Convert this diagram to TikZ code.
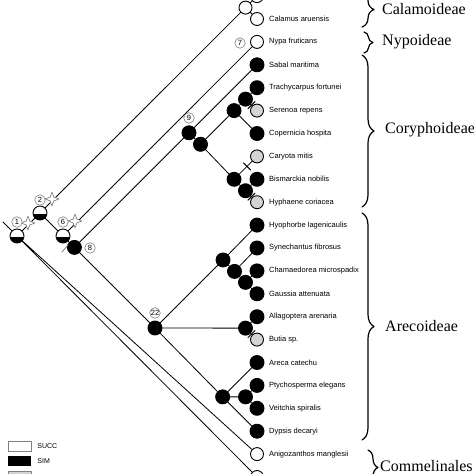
\documentclass[tikz,border=0pt]{standalone}
\usepackage{fontspec}
\setmainfont{Liberation Serif}
\setsansfont{Liberation Sans}
\usetikzlibrary{positioning,shapes.geometric,decorations.pathreplacing}
\definecolor{mixgray}{RGB}{212,212,212}
\tikzset{
  leaf/.style={circle,draw,line width=0.9pt,minimum size=13pt,inner sep=0pt},
  succ/.style={leaf,fill=white},
  sim/.style={leaf,fill=black,minimum size=14pt},
  mix/.style={leaf,fill=mixgray},
  half/.style={leaf,fill=white,minimum size=14pt,
    path picture={\fill[black] ([yshift=-1pt]path picture bounding box.west) rectangle (path picture bounding box.south east);}},
  taxon/.style={inner sep=0pt,font=\sffamily\fontsize{7.5}{8}\selectfont},
  numlab/.style={circle,draw=gray,line width=0.6pt,minimum size=10.5pt,inner sep=0pt,fill=white,
    font=\sffamily\fontsize{7.5}{8}\selectfont},
  spark/.style={star,star points=4,star point ratio=2.6,minimum size=14pt,inner sep=0pt,
    draw=gray,fill=white,line width=0.7pt},
  branch/.style={line width=0.8pt},
  losstick/.style={sloped,draw,line width=1pt,minimum width=0pt,minimum height=10pt,inner sep=0pt},
  clade/.style={anchor=west,inner sep=0pt,font=\fontsize{16}{18}\selectfont},
  curly/.style={decorate,decoration={brace,amplitude=#1},line width=1.2pt},
  legbox/.style={rectangle,minimum width=23pt,minimum height=10pt,inner sep=0pt},
  legtext/.style={inner sep=0pt,font=\sffamily\fontsize{7}{8}\selectfont}
}
\begin{document}
\begin{tikzpicture}[x=1pt,y=-1pt,line cap=round,line join=round]
  \useasboundingbox (0,0) rectangle (474,474);
  \clip (0,0) rectangle (474,474);
  % terminal taxa
  \node[succ] (top) at (257,-3.9) {};
  \node[succ] (calamus) at (257,19) {};
  \node[succ] (nypa) at (257,41.9) {};
  \node[sim] (sabal) at (257,64.8) {};
  \node[sim] (trachy) at (257,87.7) {};
  \node[mix] (serenoa) at (257,110.6) {};
  \node[sim] (copernicia) at (257,133.5) {};
  \node[mix] (caryota) at (257,156.4) {};
  \node[sim] (bismarckia) at (257,179.3) {};
  \node[mix] (hyphaene) at (257,202.2) {};
  \node[sim] (hyophorbe) at (257,225.1) {};
  \node[sim] (synech) at (257,248) {};
  \node[sim] (chamae) at (257,270.9) {};
  \node[sim] (gaussia) at (257,293.8) {};
  \node[sim] (allag) at (257,316.7) {};
  \node[mix] (butia) at (257,339.6) {};
  \node[sim] (areca) at (257,362.5) {};
  \node[sim] (ptycho) at (257,385.4) {};
  \node[sim] (veitchia) at (257,408.3) {};
  \node[sim] (dypsis) at (257,431.2) {};
  \node[succ] (anigo) at (257,454.1) {};
  \node[succ] (last) at (257,477) {};
  \node[taxon,right=5pt of calamus] (t-calamus) {Calamus aruensis};
  \node[taxon,right=5pt of nypa] (t-nypa) {Nypa fruticans};
  \node[taxon,right=4.5pt of sabal] (t-sabal) {Sabal maritima};
  \node[taxon,right=4.5pt of trachy] (t-trachy) {Trachycarpus fortunei};
  \node[taxon,right=5pt of serenoa] (t-serenoa) {Serenoa repens};
  \node[taxon,right=4.5pt of copernicia] (t-copernicia) {Copernicia hospita};
  \node[taxon,right=5pt of caryota] (t-caryota) {Caryota mitis};
  \node[taxon,right=4.5pt of bismarckia] (t-bismarckia) {Bismarckia nobilis};
  \node[taxon,right=5pt of hyphaene] (t-hyphaene) {Hyphaene coriacea};
  \node[taxon,right=4.5pt of hyophorbe] (t-hyophorbe) {Hyophorbe lagenicaulis};
  \node[taxon,right=4.5pt of synech] (t-synech) {Synechantus fibrosus};
  \node[taxon,right=4.5pt of chamae] (t-chamae) {Chamaedorea microspadix};
  \node[taxon,right=4.5pt of gaussia] (t-gaussia) {Gaussia attenuata};
  \node[taxon,right=4.5pt of allag] (t-allag) {Allagoptera arenaria};
  \node[taxon,right=5pt of butia] (t-butia) {Butia sp.};
  \node[taxon,right=4.5pt of areca] (t-areca) {Areca catechu};
  \node[taxon,right=4.5pt of ptycho] (t-ptycho) {Ptychosperma elegans};
  \node[taxon,right=4.5pt of veitchia] (t-veitchia) {Veitchia spiralis};
  \node[taxon,right=4.5pt of dypsis] (t-dypsis) {Dypsis decaryi};
  \node[taxon,right=5pt of anigo] (t-anigo) {Anigozanthos manglesii};
  % internal nodes
  \node[half] (n1) at (17,236) {};
  \node[half] (n2) at (40,213) {};
  \node[half] (n6) at (63,236) {};
  \node[sim] (n8) at (74.4,247.4) {};
  \node[succ] (cal) at (245.5,7.6) {};
  \node[sim] (n9) at (189,132.8) {};
  \node[sim] (g) at (200.5,144.3) {};
  \node[sim] (h) at (234.05,110.6) {};
  \node[sim] (i) at (245.5,99.15) {};
  \node[sim] (j) at (234.05,179.3) {};
  \node[sim] (k) at (245.5,190.75) {};
  \node[sim] (n22) at (155,328) {};
  \node[sim] (a) at (223.05,259.95) {};
  \node[sim] (b) at (234.5,271.4) {};
  \node[sim] (c) at (245.5,282.35) {};
  \node[sim] (d) at (245.5,328.15) {};
  \node[sim] (e) at (222.65,396.85) {};
  \node[sim] (f) at (245.5,396.85) {};
  \coordinate (root) at (3,222);
  % branches
  \draw[branch] (root) -- (n1) (n1) -- (n2) (n1) -- (anigo) (n1) -- (last)
    (n2) -- (cal) (n2) -- (n6) (cal) -- (top) (cal) -- (calamus)
    (n6) -- (nypa) (n6) -- (n8) (n8) -- (n9) (n8) -- (n22)
    (n9) -- (sabal) (n9) -- (g) (g) -- (h) (g) -- (j)
    (h) -- (i) (h) -- (copernicia) (i) -- (trachy) (j) -- (k)
    (k) -- (bismarckia)
    (n22) -- (a) (n22) -- (d) (n22) -- (e)
    (a) -- (hyophorbe) (a) -- (b) (b) -- (synech) (b) -- (c)
    (c) -- (chamae) (c) -- (gaussia) (d) -- (allag)
    (e) -- (areca) (e) -- (f) (e) -- (dypsis) (f) -- (ptycho) (f) -- (veitchia);
  \draw[branch] (i) -- node[losstick,pos=0.55] (tk-serenoa) {} (serenoa);
  \draw[branch] (j) -- node[losstick,pos=0.6] (tk-caryota) {} (caryota);
  \draw[branch] (k) -- node[losstick,pos=0.5] (tk-hyphaene) {} (hyphaene);
  \draw[branch] (d) -- node[losstick,pos=0.5] (tk-butia) {} (butia);
  \draw[gray,line width=0.8pt] (62,252) -- (68,245);
  % node numbers and stars
  \node[spark] (s1) at (28,223) {};
  \node[spark] (s2) at (52,199) {};
  \node[spark] (s6) at (75,221) {};
  \node[numlab] (l1) at (17,222) {1};
  \node[numlab] (l2) at (40,200) {2};
  \node[numlab] (l6) at (63,222) {6};
  \node[numlab] (l8) at (90,248) {8};
  \node[numlab] (l9) at (189,118) {9};
  \node[numlab] (l22) at (155,313) {22};
  \node[numlab] (l7) at (240,43) {7};
  % subfamilies
  \draw[curly=12pt] (362,-8) -- (362,27);
  \draw[curly=9pt] (364,32) -- (364,53);
  \draw[curly=12pt] (362,55) -- (362,207);
  \draw[curly=12pt] (362,213) -- (362,440);
  \draw[curly=10pt] (368,450) -- (368,485);
  \node[clade] (calamoideae) at (382,9) {Calamoideae};
  \node[clade] (nypoideae) at (382,42) {Nypoideae};
  \node[clade] (coryphoideae) at (385,130) {Coryphoideae};
  \node[clade] (arecoideae) at (385,326) {Arecoideae};
  \node[clade] (commelinales) at (380,466) {Commelinales};
  % legend
  \node[legbox,draw=gray,fill=white] (lg-succ) at (19.5,446) {};
  \node[legbox,fill=black] (lg-sim) at (19.5,461) {};
  \node[legbox,draw=gray,fill=mixgray] (lg-mix) at (19.5,476) {};
  \node[legtext,right=6pt of lg-succ] (lt-succ) {SUCC};
  \node[legtext,right=6pt of lg-sim] (lt-sim) {SIM};
\end{tikzpicture}
\end{document}
